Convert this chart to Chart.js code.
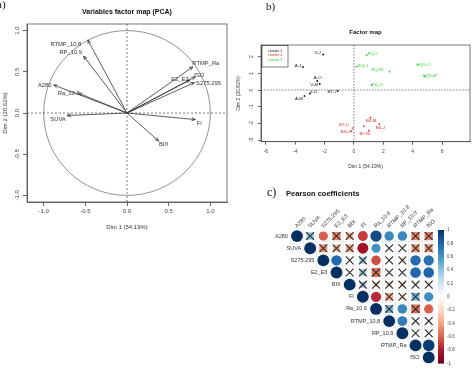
<!DOCTYPE html>
<html>
<head>
<meta charset="utf-8">
<script src="https://cdn.jsdelivr.net/npm/chart.js@4.4.1/dist/chart.umd.min.js"></script>
<style>
  body { margin: 0; background: #fff; width: 474px; height: 378px; position: relative; overflow: hidden; }
  canvas { position: absolute; }
</style>
</head>
<body>
<canvas id="pca" width="236" height="235" style="left:0;top:0"></canvas>
<canvas id="fmap" width="238" height="178" style="left:236px;top:0"></canvas>
<canvas id="corr" width="238" height="198" style="left:236px;top:180px"></canvas>

<script>
// ---- a) variables (PCA correlation circle)
const pcaVars = ['RTMP_10.8', 'RP_10.9', 'A280', 'Ra_10.6', 'SUVA', 'FI', 'BIX', 'RTMP_Ra', 'fSO', 'E2_E3', 'S275.295'];
const pcaDim1 = [-0.47, -0.52, -0.88, -0.58, -0.72, 0.82, 0.38, 0.79, 0.82, 0.755, 0.81];
const pcaDim2 = [0.886, 0.69, 0.34, 0.24, -0.03, -0.08, -0.34, 0.56, 0.44, 0.40, 0.37];

// ---- b) individuals factor map
const sampleNames = ['V-J', 'A-J', 'A-O', 'V-M', 'J-O', 'B7-J', 'A-M',
  'B4-M', 'B6-J', 'B7-O', 'B4-O', '', 'B7-M',
  'FQ-J', 'FQ-J', 'FQ-M', 'FQ-O', 'FQ5-O', 'FQ5-M'];
const sampleDim1 = [-2.1, -3.47, -2.5, -2.33, -3.0, -1.1, -3.37,
  1.11, 1.73, -0.1, -0.17, 0.67, 1.0,
  0.87, 0.17, 2.42, 1.2, 4.33, 4.82];
const sampleDim2 = [2.13, 1.38, 0.54, 0.36, -0.21, -0.06, -0.36,
  -1.66, -2.05, -2.28, -2.46, -2.16, -2.44,
  2.1, 1.41, 1.10, 0.3, 1.5, 0.8];
const sampleCluster = [1, 1, 1, 1, 1, 1, 1, 2, 2, 2, 2, 2, 2, 3, 3, 3, 3, 3, 3];
const clusterNames = ['cluster 1', 'cluster 2', 'cluster 3'];

// ---- c) Pearson correlation matrix (upper triangle, each row starts at the diagonal)
const corrVars = ['A280', 'SUVA', 'S275.295', 'E2_E3', 'BIX', 'FI', 'Ra_10.6', 'RTMP_10.8', 'RP_10.9', 'RTMP_Ra', 'fSO'];
const corrUpper = [
  [1, 0.4, -0.6, -0.5, -0.35, -0.7, 0.9, 0.65, 0.65, -0.5, -0.5],
  [1, -0.45, -0.35, -0.4, -0.85, 0.6, 0.1, 0.05, -0.45, -0.45],
  [1, 0.78, 0.08, 0.35, -0.65, 0.05, -0.2, 0.78, 0.75],
  [1, 0.05, 0.35, -0.55, -0.1, -0.1, 0.8, 0.8],
  [1, 0.3, -0.2, -0.2, -0.2, 0.1, 0.1],
  [1, -0.75, -0.4, -0.2, 0.45, 0.62],
  [1, 0.45, 0.65, -0.55, -0.6],
  [1, 0.7, 0.05, -0.1],
  [1, 0.05, -0.05],
  [1, 0.95],
  [1]
];
const corrSig = [
  [1, 0, 1, 0, 0, 1, 1, 1, 1, 0, 0],
  [1, 0, 0, 0, 1, 1, 0, 0, 0, 0],
  [1, 1, 0, 0, 1, 0, 0, 1, 1],
  [1, 0, 0, 0, 0, 0, 1, 1],
  [1, 0, 0, 0, 0, 0, 0],
  [1, 1, 0, 0, 0, 1],
  [1, 0, 1, 0, 1],
  [1, 1, 0, 0],
  [1, 0, 0],
  [1, 1],
  [1]
];

const SANS = "'Liberation Sans', Arial, sans-serif";
const SERIF = "'Liberation Serif', 'DejaVu Serif', serif";
Chart.defaults.font.family = SANS;
Chart.defaults.color = '#333';
Chart.defaults.animation = false;
Chart.defaults.events = [];
Chart.defaults.plugins.legend.display = false;
Chart.defaults.plugins.tooltip.enabled = false;

// panel letter + bold heading, drawn on the canvas
function drawHeading(ctx, letter, lx, ly, lsize, title, tx, ty, tsize, align) {
  ctx.save();
  ctx.fillStyle = '#111';
  ctx.textBaseline = 'top';
  ctx.textAlign = 'left';
  ctx.font = lsize + 'px ' + SERIF;
  ctx.fillText(letter, lx, ly);
  ctx.textBaseline = 'middle';
  ctx.textAlign = align;
  ctx.font = 'bold ' + tsize + 'px ' + SANS;
  ctx.fillText(title, tx, ty);
  ctx.restore();
}

// dashed zero lines + box, R style
function drawFrame(chart, dash) {
  const { ctx, chartArea: a, scales: { x, y } } = chart;
  const cx = x.getPixelForValue(0), cy = y.getPixelForValue(0);
  ctx.save();
  ctx.setLineDash(dash);
  ctx.strokeStyle = '#444';
  ctx.lineWidth = 0.7;
  ctx.beginPath();
  ctx.moveTo(a.left, cy); ctx.lineTo(a.right, cy);
  ctx.moveTo(cx, a.top); ctx.lineTo(cx, a.bottom);
  ctx.stroke();
  ctx.setLineDash([]);
  ctx.strokeStyle = '#555';
  ctx.lineWidth = 0.8;
  ctx.strokeRect(a.left, a.top, a.width, a.height);
  ctx.restore();
}

// label offsets (px) for the arrow tips in a)
const pcaLabelOffsets = [[-22, 4], [-13, -4], [-9, 0], [-10, 0], [-9, 4], [4, 4], [5, 3], [13, -3], [4, -1], [-10, -1], [14, 1]];

const pcaDecor = {
  id: 'pcaDecor',
  beforeDatasetsDraw(chart) {
    const { ctx, scales: { x, y } } = chart;
    const cx = x.getPixelForValue(0), cy = y.getPixelForValue(0);
    ctx.save();
    ctx.strokeStyle = '#777';
    ctx.lineWidth = 0.8;
    ctx.beginPath();
    ctx.ellipse(cx, cy, x.getPixelForValue(1) - cx, cy - y.getPixelForValue(1), 0, 0, Math.PI * 2);
    ctx.stroke();
    ctx.restore();
    drawFrame(chart, [2, 2]);
  },
  afterDatasetsDraw(chart) {
    const ctx = chart.ctx;
    ctx.save();
    ctx.strokeStyle = '#333';
    ctx.fillStyle = '#333';
    ctx.lineWidth = 0.8;
    ctx.font = '5.8px ' + SANS;
    ctx.textAlign = 'center';
    ctx.textBaseline = 'middle';
    chart.data.datasets.forEach((ds, i) => {
      const pts = chart.getDatasetMeta(i).data;
      const p0 = pts[0], p1 = pts[1];
      const ang = Math.atan2(p1.y - p0.y, p1.x - p0.x);
      ctx.beginPath();
      ctx.moveTo(p1.x - 4 * Math.cos(ang - 0.4), p1.y - 4 * Math.sin(ang - 0.4));
      ctx.lineTo(p1.x, p1.y);
      ctx.lineTo(p1.x - 4 * Math.cos(ang + 0.4), p1.y - 4 * Math.sin(ang + 0.4));
      ctx.stroke();
      const off = pcaLabelOffsets[i];
      ctx.fillText(ds.label, p1.x + off[0], p1.y + off[1]);
    });
    ctx.restore();
  },
  afterDraw(chart) {
    const a = chart.chartArea;
    drawHeading(chart.ctx, 'a)', -3, 0, 11, 'Variables factor map (PCA)', (a.left + a.right) / 2, 12, 7, 'center');
  }
};

new Chart(document.getElementById('pca'), {
  type: 'scatter',
  data: {
    datasets: pcaVars.map((name, i) => ({
      label: name,
      data: [{ x: 0, y: 0 }, { x: pcaDim1[i], y: pcaDim2[i] }],
      showLine: true,
      borderColor: '#333',
      borderWidth: 0.8,
      pointRadius: 0
    }))
  },
  options: {
    responsive: false,
    layout: { padding: { top: 24, right: 9, left: 0, bottom: 0 } },
    scales: {
      x: {
        min: -1.2, max: 1.2,
        afterFit: s => { s.height = 33; },
        ticks: { stepSize: 0.5, includeBounds: false, callback: v => v.toFixed(1), font: { size: 6 }, padding: 2, color: '#444' },
        grid: { drawOnChartArea: false, tickLength: 4, tickColor: '#666' },
        border: { color: '#666' },
        title: { display: true, text: 'Dim 1 (54.19%)', font: { size: 6 }, color: '#333', padding: { top: 0, bottom: 4 } }
      },
      y: {
        min: -1.08, max: 1.08,
        afterFit: s => { s.width = 27; },
        ticks: { stepSize: 0.5, includeBounds: false, callback: v => v.toFixed(1), font: { size: 6 }, padding: 0, color: '#444',
          minRotation: 90, maxRotation: 90, crossAlign: 'center' },
        grid: { drawOnChartArea: false, tickLength: 4, tickColor: '#666' },
        border: { color: '#666' },
        title: { display: true, text: 'Dim 2 (20.62%)', font: { size: 6 }, color: '#333', padding: { top: 1.5, bottom: 0 } }
      }
    }
  },
  plugins: [pcaDecor]
});

// ---- b)
const clusterColors = ['#111111', '#e02a2a', '#2ecc2e'];
const fmapLabelOffsets = [[-5.5, -2], [-5, -1], [0.5, -3.7], [-5.5, 0.5], [3.7, -1.5], [-5.8, 1], [-5.5, 2.3],
  [1, 3.3], [1, 3.7], [-8.5, -3], [-5.8, 0.7], [0, 0], [-4, 2.8],
  [6, -1], [6.5, -0.5], [-12.3, -2.2], [6, -0.5], [6.3, -0.5], [5, -0.7]];

const fmapDecor = {
  id: 'fmapDecor',
  beforeDatasetsDraw(chart) { drawFrame(chart, [1.5, 1.5]); },
  afterDatasetsDraw(chart) {
    const { ctx, scales: { x, y }, chartArea: a } = chart;
    ctx.save();
    ctx.font = '4.4px ' + SANS;
    ctx.textAlign = 'center';
    ctx.textBaseline = 'middle';
    sampleNames.forEach((name, i) => {
      const px = x.getPixelForValue(sampleDim1[i]), py = y.getPixelForValue(sampleDim2[i]);
      ctx.fillStyle = clusterColors[sampleCluster[i] - 1];
      ctx.fillText(name, px + fmapLabelOffsets[i][0], py + fmapLabelOffsets[i][1]);
    });
    // legend box
    ctx.strokeStyle = '#222';
    ctx.lineWidth = 0.6;
    ctx.strokeRect(a.left + 1, a.top + 0.5, 26, 21.5);
    ctx.font = '3.8px ' + SANS;
    ctx.textAlign = 'left';
    clusterNames.forEach((c, k) => {
      ctx.fillStyle = clusterColors[k];
      ctx.fillText(c, a.left + 7, a.top + 5.7 + k * 4.6);
    });
    ctx.restore();
  },
  afterDraw(chart) {
    const a = chart.chartArea;
    drawHeading(chart.ctx, 'b)', 30, 2, 11, 'Factor map', (a.left + a.right) / 2, 32, 6, 'center');
  }
};

new Chart(document.getElementById('fmap'), {
  type: 'scatter',
  data: {
    datasets: clusterNames.map((c, k) => ({
      label: c,
      data: sampleNames.map((n, i) => ({ x: sampleDim1[i], y: sampleDim2[i] })).filter((p, i) => sampleCluster[i] === k + 1),
      pointRadius: 0.9,
      pointBackgroundColor: clusterColors[k],
      pointBorderWidth: 0
    }))
  },
  options: {
    responsive: false,
    layout: { padding: { top: 45, right: 0, left: 0, bottom: 0 } },
    scales: {
      x: {
        min: -6.33, max: 7.9,
        afterFit: s => { s.height = 36.3; },
        ticks: { stepSize: 2, includeBounds: false, font: { size: 5 }, padding: 4, color: '#444' },
        grid: { drawOnChartArea: false, tickLength: 3, tickColor: '#666' },
        border: { color: '#666' },
        title: { display: true, text: 'Dim 1 (54.19%)', font: { size: 5 }, color: '#333', padding: { top: 0, bottom: 8 } }
      },
      y: {
        min: -3.1, max: 2.7,
        afterFit: s => { s.width = 25; },
        ticks: { stepSize: 1, includeBounds: false, font: { size: 5 }, padding: 4.5, color: '#444',
          minRotation: 90, maxRotation: 90, crossAlign: 'center' },
        grid: { drawOnChartArea: false, tickLength: 3, tickColor: '#666' },
        border: { color: '#666' },
        title: { display: true, text: 'Dim 2 (20.62%)', font: { size: 5 }, color: '#333', padding: { top: 0, bottom: 0 } }
      }
    }
  },
  plugins: [fmapDecor]
});

// ---- c)
const rdbuStops = ['#67001F', '#B2182B', '#D6604D', '#F4A582', '#FDDBC7', '#FFFFFF', '#D1E5F0', '#92C5DE', '#4393C3', '#2166AC', '#053061'];
function hexRgb(h) { return [1, 3, 5].map(k => parseInt(h.slice(k, k + 2), 16)); }
function rdbu(v) {
  const n = rdbuStops.length;
  const t = (Math.max(-1, Math.min(1, v)) + 1) / 2 * (n - 1);
  const i = Math.min(n - 2, Math.floor(t));
  const f = t - i;
  const a = hexRgb(rdbuStops[i]), b = hexRgb(rdbuStops[i + 1]);
  const c = a.map((ai, k) => Math.round(ai + (b[k] - ai) * f));
  return 'rgb(' + c.join(',') + ')';
}

const cellData = [], markData = [], crossData = [];
corrUpper.forEach((row, i) => row.forEach((v, k) => {
  const j = i + k;
  cellData.push({ x: j, y: i });
  markData.push({ x: j, y: i, v: v, sig: corrSig[i][k] });
  if (!corrSig[i][k]) crossData.push({ x: j, y: i });
}));

const cellPx = c => c.chart.scales.x.getPixelForValue(1) - c.chart.scales.x.getPixelForValue(0);

const corrDecor = {
  id: 'corrDecor',
  afterDatasetsDraw(chart) {
    const { ctx, scales: { x, y }, chartArea: a } = chart;
    const s = x.getPixelForValue(1) - x.getPixelForValue(0);
    ctx.save();
    // colour bar
    const g = ctx.createLinearGradient(0, a.top, 0, a.bottom);
    rdbuStops.forEach((c, k) => g.addColorStop(1 - k / (rdbuStops.length - 1), c));
    ctx.fillStyle = g;
    ctx.fillRect(a.right + 2.7, a.top, 6, a.height);
    // row / column labels
    ctx.fillStyle = '#333';
    ctx.font = '5.5px ' + SANS;
    ctx.textAlign = 'right';
    ctx.textBaseline = 'middle';
    corrVars.forEach((name, i) => {
      ctx.fillText(name, x.getPixelForValue(i) - s / 2 - 2.5, y.getPixelForValue(i));
    });
    ctx.textAlign = 'left';
    corrVars.forEach((name, j) => {
      ctx.save();
      ctx.translate(x.getPixelForValue(j) - 1, a.top - 3);
      ctx.rotate(-Math.PI / 4);
      ctx.fillText(name, 0, 0);
      ctx.restore();
    });
    ctx.restore();
  },
  afterDraw(chart) {
    drawHeading(chart.ctx, 'c)', 31, 7, 12, 'Pearson coefficients', 50, 14, 7.5, 'left');
  }
};

new Chart(document.getElementById('corr'), {
  type: 'scatter',
  data: {
    datasets: [
      {
        label: 'insignificant',
        data: crossData,
        order: 0,
        pointStyle: 'crossRot',
        pointRadius: c => cellPx(c) * 0.42,
        pointBorderColor: '#2a2a2a',
        pointBorderWidth: 1.1,
        pointBackgroundColor: 'transparent'
      },
      {
        label: 'r',
        data: markData,
        order: 1,
        pointStyle: c => (c.raw && c.raw.sig) ? 'circle' : 'rect',
        pointRadius: c => {
          if (!c.raw) return 0;
          const d = 0.9 * Math.sqrt(Math.abs(c.raw.v)) * cellPx(c);
          return c.raw.sig ? d / 2 : d / Math.SQRT2;
        },
        pointBackgroundColor: c => c.raw ? rdbu(c.raw.v) : 'transparent',
        pointBorderColor: c => c.raw ? rdbu(c.raw.v) : 'transparent',
        pointBorderWidth: 0
      },
      {
        label: 'cells',
        data: cellData,
        order: 2,
        pointStyle: 'rect',
        pointRadius: c => cellPx(c) / Math.SQRT2,
        pointBackgroundColor: '#fff',
        pointBorderColor: '#e2e2e2',
        pointBorderWidth: 0.5
      }
    ]
  },
  options: {
    responsive: false,
    layout: { padding: { top: 50, right: 0, left: 54.4, bottom: 1.3 } },
    scales: {
      x: { display: false, min: -0.5, max: 10.5 },
      y: { display: false, min: -0.5, max: 10.5, reverse: true },
      cb: {
        type: 'linear', position: 'right', min: -1, max: 1,
        afterFit: s => { s.width = 38.7; },
        ticks: { stepSize: 0.2, includeBounds: false, font: { size: 4.5 }, padding: 11.7, color: '#444',
          callback: v => String(parseFloat(v.toFixed(1))) },
        grid: { drawOnChartArea: false, drawTicks: false },
        border: { display: false }
      }
    }
  },
  plugins: [corrDecor]
});
</script>
</body>
</html>
